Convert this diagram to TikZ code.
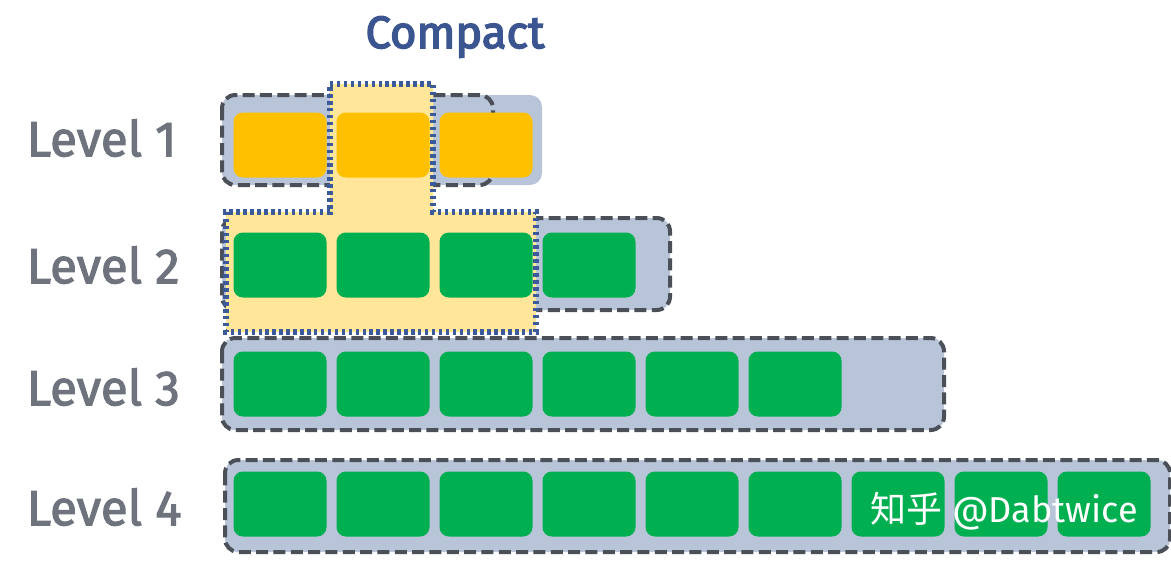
\documentclass[tikz,border=0pt]{standalone}
\usepackage{fontspec}
\setmainfont{Fira Sans}
\newfontfamily\lvf{Fira Sans}[UprightFeatures={FakeBold=2.2}]
\newfontfamily\cpf{Fira Sans}[UprightFeatures={FakeBold=3.2}]
\newfontfamily\cjk{Noto Sans CJK SC}
\definecolor{bgg}{HTML}{B8C4D8}
\definecolor{dashc}{HTML}{4A4F58}
\definecolor{yel}{HTML}{FFE699}
\definecolor{dotc}{HTML}{3A5A9A}
\definecolor{org}{HTML}{FFC000}
\definecolor{grn}{HTML}{00B050}
\definecolor{lab}{HTML}{6E737D}
\definecolor{cmp}{HTML}{3B5591}
\begin{document}
\begin{tikzpicture}[x=0.75pt,y=-0.75pt,
  bg/.style={fill=bgg,rounded corners=9pt},
  dsh/.style={draw=dashc,line width=3pt,dash pattern=on 9pt off 4pt,rounded corners=10pt},
  dot/.style={draw=dotc,line width=4pt,dash pattern=on 2.6pt off 2.6pt},
  lv/.style={text=lab,font=\lvf\fontsize{37}{37}\selectfont,anchor=west},
  box/.style={rounded corners=7pt,minimum width=69.75pt,minimum height=48.75pt,inner sep=0pt}]
\useasboundingbox (0,0) rectangle (1171,561);
% backgrounds
\path[bg] (222,95) rectangle (542,185);
\path[dsh] (222,95) rectangle (493,185);
\path[bg] (222,218) rectangle (670,310);
\path[dsh] (222,218) rectangle (670,310);
\path[bg] (222,338) rectangle (944,430);
\path[dsh] (222,338) rectangle (944,430);
\path[bg] (225,460) rectangle (1170,552);
\path[dsh] (225,460) rectangle (1170,552);
% yellow compaction region
\path[fill=yel] (330,84) -- (433,84) -- (433,212) -- (536,212) -- (536,332) -- (226,332) -- (226,212) -- (330,212) -- cycle;
\draw[dot] (330,84) -- (433,84) -- (433,212) -- (536,212) -- (536,332) -- (226,332) -- (226,212) -- (330,212) -- cycle;
% boxes
\foreach \i in {0,1,2} \node[box,fill=org] (a\i) at (280+103*\i,145) {};
\foreach \i in {0,...,3} \node[box,fill=grn] (b\i) at (280+103*\i,265) {};
\foreach \i in {0,...,5} \node[box,fill=grn] (c\i) at (280+103*\i,384) {};
\foreach \i in {0,...,8} \node[box,fill=grn] (d\i) at (280+103*\i,504) {};
% labels
\node[lv] (l1) at (22,138) {Level 1};
\node[lv] (l2) at (22,265) {Level 2};
\node[lv] (l3) at (22,387) {Level 3};
\node[lv] (l4) at (22,507) {Level 4};
\node[text=cmp,font=\cpf\fontsize{34}{34}\selectfont] (cp) at (455,37) {Compact};
\node[text=white,font=\fontsize{27}{27}\selectfont,anchor=west] (wm) at (866,511) {{\cjk 知乎} @Dabtwice};
\end{tikzpicture}
\end{document}
